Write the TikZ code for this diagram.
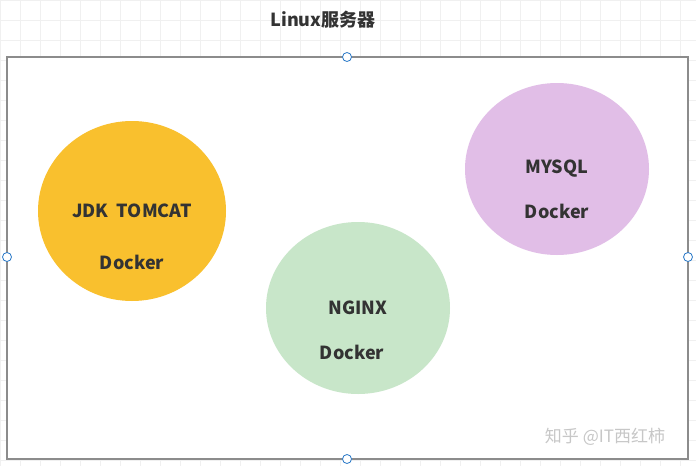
\documentclass[tikz,border=0pt]{standalone}
\usepackage{fontspec}
\setmainfont{Noto Sans CJK SC}
\begin{document}
\begin{tikzpicture}[x=1pt,y=-1pt,
  lbl/.style={font=\fontsize{18}{20}\selectfont\bfseries,text=black!80},
  handle/.style={circle,draw={rgb,255:red,40;green,120;blue,200},fill=white,inner sep=0pt,minimum size=9pt,line width=0.8pt}]
\useasboundingbox (0,0) rectangle (696,466);
\fill[white] (0,0) rectangle (696,466);
\foreach \i in {0,20,...,696} \draw[black!6] (\i,0) -- (\i,466);
\foreach \j in {0,20,...,466} \draw[black!6] (0,\j) -- (696,\j);
\node[lbl] (title) at (323,20) {Linux服务器};
\draw[fill=white,draw=black!45,line width=1.8pt] (7,57) rectangle (688,459);
\node[handle] (h1) at (347,57) {};
\node[handle] (h2) at (7,257) {};
\node[handle] (h3) at (688,257) {};
\node[handle] (h4) at (347,459) {};
\fill[fill={rgb,255:red,249;green,192;blue,46}] (132,211) ellipse [x radius=94,y radius=90];
\fill[fill={rgb,255:red,200;green,230;blue,201}] (358,308) ellipse [x radius=92,y radius=86];
\fill[fill={rgb,255:red,225;green,190;blue,231}] (557,169) ellipse [x radius=92,y radius=86];
\node[lbl] (t1) at (132,211) {JDK\ \ TOMCAT};
\node[lbl] (d1) at (132,262) {Docker};
\node[lbl] (t2) at (358,308) {NGINX};
\node[lbl] (d2) at (352,352) {Docker};
\node[lbl] (t3) at (557,169) {MYSQL};
\node[lbl] (d3) at (557,211) {Docker};
\node[font=\fontsize{17}{19}\selectfont,text=black!22] (wm) at (605,437) {知乎 @IT西红柿};
\end{tikzpicture}
\end{document}
